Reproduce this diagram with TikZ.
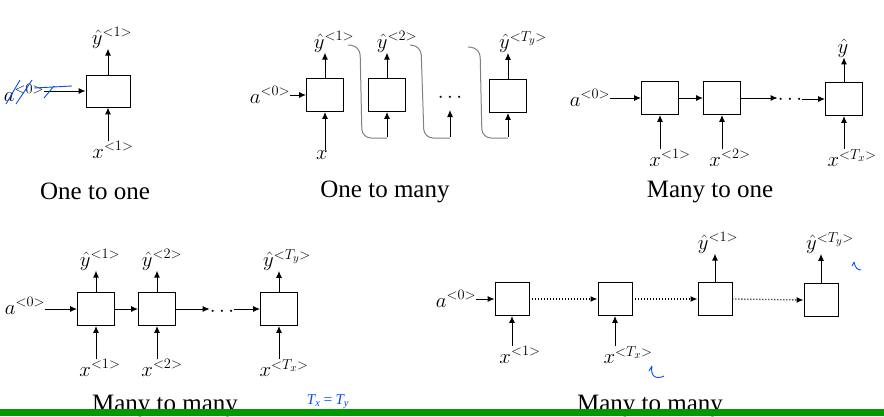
\documentclass[tikz,border=0pt]{standalone}
\usepackage{fontspec}
\setmainfont{Liberation Serif}
\usetikzlibrary{arrows.meta}
\begin{document}
\begin{tikzpicture}[x=1pt,y=-1pt,
 cell/.style={draw,line width=0.9pt,minimum width=37pt,minimum height=33pt,inner sep=0},
 ar/.style={-{Latex[length=7pt,width=6pt]},line width=1pt},
 dar/.style={ar,dotted,line width=1.3pt},
 lab/.style={font=\fontsize{21}{21}\selectfont,inner sep=0},
 captxt/.style={font=\fontsize{25}{25}\selectfont,inner sep=0},
 feedback/.style={gray,line width=1pt,rounded corners=9pt},
 hand/.style={blue!70!cyan,line width=0.9pt}]
\useasboundingbox (0,0) rectangle (884,416);
\fill[white] (0,0) rectangle (884,416);
% One to one
\node[cell,minimum width=44pt,minimum height=32pt] (b0) at (108,91) {};
\node[lab] (a0) at (24,93) {$a^{<0>}$};
\draw[ar] (b0.west -| a0.east) -- (b0.west);
\node[lab] (y0) at (112,38) {$\hat y^{<1>}$};
\node[lab] (x0) at (113,150) {$x^{<1>}$};
\draw[ar] (b0.north) -- (b0.north |- y0.south);
\draw[ar] (b0.south |- x0.north) -- (b0.south);
\node[captxt] (c1) at (95,191) {One to one};
\draw[hand] (6,104) -- (20,80) (16,104) -- (32,80) (44,98)--(54,86) (34,88)--(72,86);
% One to many
\node[cell] (m1) at (325,95) {};
\node[cell] (m2) at (387,95) {};
\node[cell] (m3) at (508,96) {};
\node[lab] (ma) at (270,95) {$a^{<0>}$};
\draw[ar] (m1.west -| ma.east) -- (m1.west);
\node[lab] (my1) at (334,42) {$\hat y^{<1>}$};
\node[lab] (my2) at (397,42) {$\hat y^{<2>}$};
\node[lab] (my3) at (523,42) {$\hat y^{<T_y>}$};
\foreach \b/\y in {m1/my1,m2/my2,m3/my3} \draw[ar] (\b.north) -- (\b.north |- \y.south);
\node[lab] (mx) at (322,155) {$x$};
\draw[ar] (m1.south |- mx.north) -- (m1.south);
\node[lab] (mdots) at (450,98) {$\cdots$};
\coordinate (i2) at (387,137); \coordinate (i3) at (450,137); \coordinate (i4) at (508,137);
\draw[ar] (i2) -- (m2.south);
\draw[ar] (i3) -- (450,110);
\draw[ar] (i4) -- (m3.south);
\draw[feedback] (348,45) -- (360,46) -- (362,138) -- (387,138);
\draw[feedback] (410,45) -- (421,46) -- (424,138) -- (450,138);
\draw[feedback] (468,47) -- (480,48) -- (482,138) -- (508,138);
\node[captxt] (c2) at (385,192) {One to many};
% Many to one
\node[cell] (n1) at (660,98) {};
\node[cell] (n2) at (722,98) {};
\node[cell] (n3) at (844,99) {};
\node[lab] (na) at (590,98) {$a^{<0>}$};
\draw[ar] (n1.west -| na.east) -- (n1.west);
\draw[ar] (n1.east) -- (n2.west);
\node[lab] (nd) at (790,100) {$\cdots$};
\draw[ar] (n2.east) -- (n2.east -| nd.west);
\draw[ar] (n3.west -| nd.east) -- (n3.west);
\node[lab] (ny) at (843,48) {$\hat y$};
\draw[ar] (n3.north) -- (n3.north |- ny.south);
\node[lab] (nx1) at (670,158) {$x^{<1>}$};
\node[lab] (nx2) at (730,158) {$x^{<2>}$};
\node[lab] (nx3) at (852,158) {$x^{<T_x>}$};
\draw[ar] (nx1.north -| n1) -- (n1.south);
\draw[ar] (nx2.north -| n2) -- (n2.south);
\draw[ar] (nx3.north -| n3) -- (n3.south);
\node[captxt] (c3) at (710,192) {Many to one};
% Many to many (equal)
\node[cell] (p1) at (96,309) {};
\node[cell] (p2) at (157,309) {};
\node[cell] (p3) at (279,309) {};
\node[lab] (pa) at (25,306) {$a^{<0>}$};
\draw[ar] (p1.west -| pa.east) -- (p1.west);
\draw[ar] (p1.east) -- (p2.west);
\node[lab] (pd) at (222,312) {$\cdots$};
\draw[ar] (p2.east) -- (p2.east -| pd.west);
\draw[ar] (p3.west -| pd.east) -- (p3.west);
\node[lab] (py1) at (100,260) {$\hat y^{<1>}$};
\node[lab] (py2) at (162,260) {$\hat y^{<2>}$};
\node[lab] (py3) at (287,260) {$\hat y^{<T_y>}$};
\foreach \b/\y in {p1/py1,p2/py2,p3/py3} \draw[ar] (\b.north) -- (\b.north |- \y.south);
\node[lab] (px1) at (100,368) {$x^{<1>}$};
\node[lab] (px2) at (162,368) {$x^{<2>}$};
\node[lab] (px3) at (284,368) {$x^{<T_x>}$};
\foreach \b/\x in {p1/px1,p2/px2,p3/px3} \draw[ar] (\b.south |- \x.north) -- (\b.south);
\node[captxt] (c4) at (165,406) {Many to many};
\node[font=\itshape\fontsize{15}{15}\selectfont,text=blue!70!cyan] (tt) at (328,402) {T\textsubscript{x}\,=\,T\textsubscript{y}};
% Many to many (encoder-decoder)
\node[cell,minimum width=34pt] (q1) at (512,299) {};
\node[cell,minimum width=34pt] (q2) at (615,299) {};
\node[cell,minimum width=34pt] (q3) at (715,299) {};
\node[cell,minimum width=34pt] (q4) at (821,300) {};
\node[lab] (qa) at (456,299) {$a^{<0>}$};
\draw[ar] (q1.west -| qa.east) -- (q1.west);
\draw[dar] (q1.east) -- (q2.west);
\draw[dar] (q2.east) -- (q3.west);
\draw[dar] (q3.east) -- (q4.west);
\node[lab] (qx1) at (520,355) {$x^{<1>}$};
\node[lab] (qx2) at (628,355) {$x^{<T_x>}$};
\draw[ar] (qx1.north -| q1) -- (q1.south);
\draw[ar] (qx2.north -| q2) -- (q2.south);
\node[lab] (qy1) at (718,243) {$\hat y^{<1>}$};
\node[lab] (qy2) at (830,243) {$\hat y^{<T_y>}$};
\draw[ar] (q3.north) -- (q3.north |- qy1.south);
\draw[ar] (q4.north) -- (q4.north |- qy2.south);
\draw[hand] (652,366) .. controls (650,376) and (656,380) .. (664,376) (652,366)--(649,371);
\draw[hand] (854,262) .. controls (855,268) and (858,270) .. (861,270) (854,262) -- (852,266);
\node[captxt] (c5) at (650,406) {Many to many};
% bottom bar
\fill[green!60!black] (0,409) rectangle (884,416);
\end{tikzpicture}
\end{document}
